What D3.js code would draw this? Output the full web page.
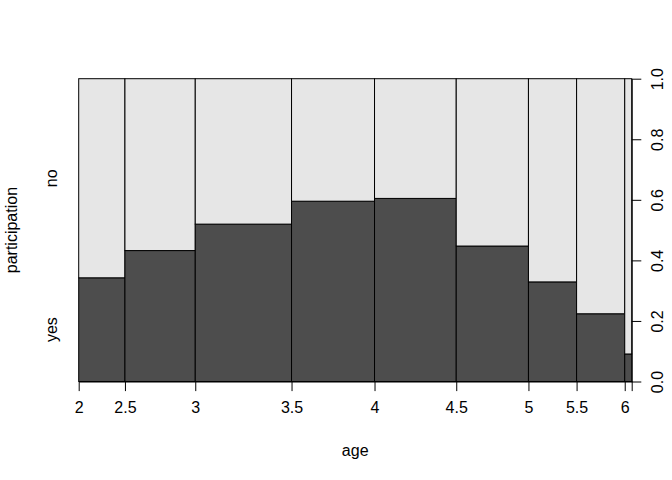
<!DOCTYPE html>
<html>
<head>
<meta charset="utf-8">
<script src="https://cdn.jsdelivr.net/npm/d3@7"></script>
<style>
  body { margin: 0; background: #fff; }
  svg { display: block; font-family: "Liberation Sans", Arial, sans-serif; }
</style>
</head>
<body>
<div id="chart"></div>
<script>
// spineplot of participation by age (bins of half a decade)
const breaks = [2, 2.5, 3, 3.5, 4, 4.5, 5, 5.5, 6, 6.5];
const breakLabels = ["2", "2.5", "3", "3.5", "4", "4.5", "5", "5.5", "6", ""];
const binCounts = [73, 111, 152, 131, 129, 114, 76, 76, 11];
const yesCounts = [25, 48, 79, 78, 78, 51, 25, 17, 1];
const levels = ["yes", "no"];
const yTicks = [0, 0.2, 0.4, 0.6, 0.8, 1.0];

const width = 672;
const height = 480;
const margin = { top: 78.7, right: 40.3, bottom: 98.5, left: 78.7 };
const fontSize = 16;
const colors = { yes: "#4D4D4D", no: "#E6E6E6" };

const svg = d3.select("#chart")
  .append("svg")
  .attr("width", width)
  .attr("height", height);

const total = d3.sum(binCounts);
const cum = [0, ...Array.from(d3.cumsum(binCounts))];

const x = d3.scaleLinear()
  .domain([0, total])
  .range([margin.left, width - margin.right]);

const y = d3.scaleLinear()
  .domain([0, 1])
  .range([height - margin.bottom, margin.top]);

const bins = binCounts.map((n, i) => ({
  x0: cum[i],
  x1: cum[i + 1],
  yes: yesCounts[i] / n
}));

// dark "yes" part at the bottom, light "no" part above
const g = svg.append("g");
bins.forEach((b) => {
  g.append("rect")
    .attr("x", x(b.x0))
    .attr("width", x(b.x1) - x(b.x0))
    .attr("y", y(b.yes))
    .attr("height", y(0) - y(b.yes))
    .attr("fill", colors.yes)
    .attr("stroke", "#000")
    .attr("stroke-width", 1);
  g.append("rect")
    .attr("x", x(b.x0))
    .attr("width", x(b.x1) - x(b.x0))
    .attr("y", y(1))
    .attr("height", y(b.yes) - y(1))
    .attr("fill", colors.no)
    .attr("stroke", "#000")
    .attr("stroke-width", 1);
});

// bottom axis at the bin breaks
const xAxis = svg.append("g")
  .attr("transform", `translate(0,${y(0)})`)
  .call(d3.axisBottom(x)
    .tickValues(cum)
    .tickFormat((d, i) => breakLabels[i])
    .tickSize(9.6)
    .tickSizeOuter(0)
    .tickPadding(10.5));
xAxis.selectAll("text").attr("font-size", fontSize).attr("fill", "#000");
xAxis.attr("font-family", null);

// right axis with proportions
const yAxis = svg.append("g")
  .attr("transform", `translate(${x(total)},0)`)
  .call(d3.axisRight(y)
    .tickValues(yTicks)
    .tickFormat(d3.format(".1f"))
    .tickSize(9.6)
    .tickSizeOuter(0));
yAxis.attr("font-family", null);
yAxis.selectAll("text")
  .attr("x", null)
  .attr("dy", null)
  .attr("text-anchor", "middle")
  .attr("font-size", fontSize)
  .attr("fill", "#000")
  .attr("transform", "translate(30.8,0) rotate(-90)");

// left labels, placed at the middle of the first bin's segments
const first = bins[0].yes;
const levelAt = { yes: first / 2, no: (first + 1) / 2 };
levels.forEach((lv) => {
  svg.append("text")
    .attr("transform", `translate(56.5,${y(levelAt[lv])}) rotate(-90)`)
    .attr("text-anchor", "middle")
    .attr("font-size", fontSize)
    .text(lv);
});

// axis titles
svg.append("text")
  .attr("x", (x(0) + x(total)) / 2)
  .attr("y", 455.5)
  .attr("text-anchor", "middle")
  .attr("font-size", fontSize)
  .text("age");

svg.append("text")
  .attr("transform", `translate(16.5,${(y(0) + y(1)) / 2}) rotate(-90)`)
  .attr("text-anchor", "middle")
  .attr("font-size", fontSize)
  .text("participation");
</script>
</body>
</html>
